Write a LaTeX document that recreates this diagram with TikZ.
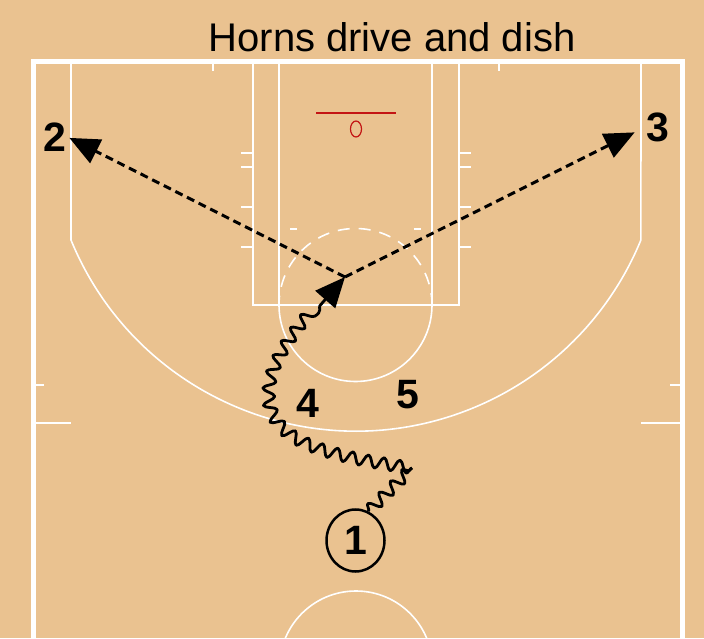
\documentclass[tikz,border=0pt]{standalone}
\usepackage{fontspec}
\setmainfont{Liberation Sans}
\usetikzlibrary{arrows.meta,decorations.pathmorphing,shapes.geometric}

\definecolor{wood}{RGB}{234,194,144}
\definecolor{rimred}{RGB}{195,20,20}

\begin{document}
\begin{tikzpicture}[x=1pt,y=1pt,
    court/.style={draw=white,line width=1.6pt},
    player/.style={font=\fontsize{41}{41}\selectfont\bfseries,inner sep=1pt},
    pass/.style={line width=3pt,dash pattern=on 8pt off 5pt,shorten >=2pt,
      -{Triangle[length=30pt,width=26pt]}},
    dribble/.style={line width=2.8pt,line join=round,decorate,
      decoration={snake,amplitude=6pt,segment length=16pt,post length=32pt}}]
    \useasboundingbox (0,0) rectangle (704,638);
    \clip (0,0) rectangle (704,638);
    \fill[wood] (0,0) rectangle (704,638);

    \draw[white,line width=5pt] (33,-10) -- (33,576) -- (682,576) -- (682,-10);
    \draw[court] (71,576) -- (71,398) arc[start angle=202.3,end angle=337.7,radius=308pt] -- (641,576);
    \draw[court] (253,333) rectangle (459,576);
    \draw[court] (279,576) -- (279,333) arc[start angle=180,end angle=360,radius=76.5pt] -- (432,576);
    \draw[court,dash pattern=on 12pt off 9pt] (432,333) arc[start angle=0,end angle=180,radius=76.5pt];
    \draw[court] (356,-29.5) circle[radius=76.5pt];
    \draw[court]
      (241,485) -- (253,485) (241,471) -- (253,471) (241,431) -- (253,431) (241,391) -- (253,391)
      (459,485) -- (471,485) (459,471) -- (471,471) (459,431) -- (471,431) (459,391) -- (471,391)
      (290,409) -- (297,409) (414,409) -- (421,409)
      (213,576) -- (213,567) (499,576) -- (499,567)
      (33,215) -- (71,215) (33,253) -- (44,253) (641,215) -- (682,215) (670,253) -- (682,253);

    \draw[rimred,line width=2pt] (316,525) -- (396,525);
    \draw[rimred,line width=1.2pt] (356,509) ellipse[x radius=5.5pt,y radius=8pt];

    \node[font=\fontsize{40}{40}\selectfont] (title) at (392,601) {Horns drive and dish};

    \node[player] (two) at (55,501) {2};
    \node[player] (three) at (658,511) {3};
    \node[player] (four) at (308,235) {4};
    \node[player] (five) at (408,243) {5};
    \node[player,draw,ellipse,line width=2.5pt,minimum width=58pt,minimum height=62pt,inner sep=0pt]
      (one) at (355.5,97.5) {1};

    \coordinate (turn) at (412,170);
    \coordinate (drive) at (345,361);

    \draw[dribble,decoration={post length=0pt}] (one.66) -- (turn);
    \draw[dribble,-{Triangle[length=30pt,width=26pt]}] (turn) .. controls (330,182) and (280,195) .. (273,235)
      .. controls (268,275) and (300,310) .. (drive);
    \draw[pass] (drive) -- (two.east);
    \draw[pass,shorten >=12pt] (drive) -- (three.west);
  \end{tikzpicture}
\end{document}
